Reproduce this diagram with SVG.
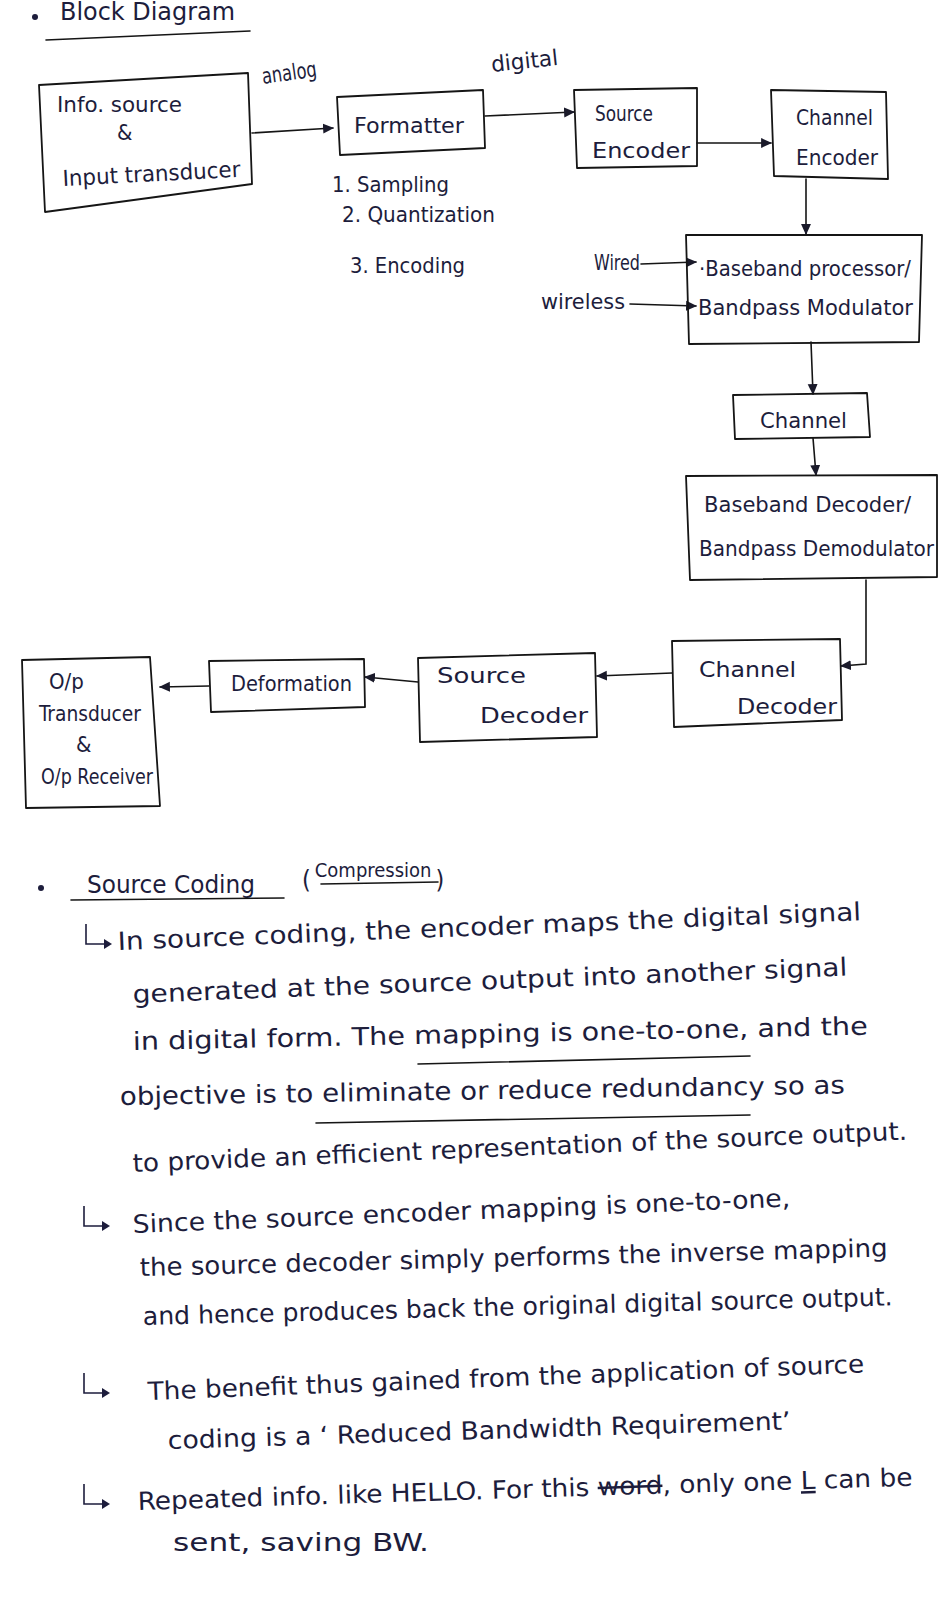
<svg xmlns="http://www.w3.org/2000/svg" width="942" height="1600" viewBox="0 0 942 1600">
<defs>
<marker id="ah" viewBox="0 0 10 10" refX="9" refY="5" markerWidth="11" markerHeight="11" markerUnits="userSpaceOnUse" orient="auto"><path d="M0,0.5 L10,5 L0,9.5 z" fill="#1a1a2a"/></marker>
<style>
.bx{fill:none;stroke:#151515;stroke-width:1.8;stroke-linejoin:round}
.ln{fill:none;stroke:#151515;stroke-width:1.6;stroke-linecap:round}
.t{font-family:"DejaVu Sans Condensed","Liberation Sans Narrow","Liberation Sans",sans-serif;fill:#1d1d3c;font-size:22px}
.p{font-family:"DejaVu Sans Condensed","Liberation Sans Narrow","Liberation Sans",sans-serif;fill:#1d1d3c;font-size:25px}
.hk{fill:none;stroke:#1d1d3c;stroke-width:1.6}
</style>
</defs>
<rect width="942" height="1600" fill="#ffffff"/>
<g id="title">
<circle cx="35" cy="17" r="3" fill="#1d1d3c"/>
<text class="p" x="60" y="20" textLength="175" lengthAdjust="spacingAndGlyphs" font-size="26">Block Diagram</text>
<path class="ln" d="M46,40 L250,31"/>
</g>
<g id="connectors">
<path class="ln" d="M252,133 L333,128" marker-end="url(#ah)"/>
<path class="ln" d="M485,116 L574,112" marker-end="url(#ah)"/>
<path class="ln" d="M697,143 L771,143" marker-end="url(#ah)"/>
<path class="ln" d="M806,179 L806,234" marker-end="url(#ah)"/>
<path class="ln" d="M641,264 L696,262" marker-end="url(#ah)"/>
<path class="ln" d="M630,304 L696,306" marker-end="url(#ah)"/>
<path class="ln" d="M811,342 L813,394" marker-end="url(#ah)"/>
<path class="ln" d="M813,438 L816,475" marker-end="url(#ah)"/>
<path class="ln" d="M866,580 L866,664 L841,666" marker-end="url(#ah)"/>
<path class="ln" d="M672,673 L597,676" marker-end="url(#ah)"/>
<path class="ln" d="M418,682 L365,677" marker-end="url(#ah)"/>
<path class="ln" d="M209,686 L160,687" marker-end="url(#ah)"/>
<text class="t" x="263" y="84" textLength="55" lengthAdjust="spacingAndGlyphs" transform="rotate(-8 263 84)">analog</text>
<text class="t" x="492" y="72" textLength="67" lengthAdjust="spacingAndGlyphs" transform="rotate(-6 492 72)">digital</text>
<text class="t" x="594" y="270" textLength="46" lengthAdjust="spacingAndGlyphs">Wired</text>
<text class="t" x="541" y="309" textLength="84" lengthAdjust="spacingAndGlyphs">wireless</text>
</g>
<g id="info-source">
<path class="bx" d="M39,85 L248,73 L252,184 L45,212 Z"/>
<text class="t" x="57" y="112" textLength="125" lengthAdjust="spacingAndGlyphs">Info. source</text>
<text class="t" x="117" y="140" font-size="18">&amp;</text>
<text class="t" x="63" y="186" textLength="178" lengthAdjust="spacingAndGlyphs" transform="rotate(-3 63 186)">Input transducer</text>
</g>
<g id="formatter">
<path class="bx" d="M337,97 L483,90 L485,148 L340,155 Z"/>
<text class="t" x="354" y="133" textLength="110" lengthAdjust="spacingAndGlyphs">Formatter</text>
<text class="t" x="332" y="192" textLength="117" lengthAdjust="spacingAndGlyphs">1. Sampling</text>
<text class="t" x="342" y="222" textLength="153" lengthAdjust="spacingAndGlyphs">2. Quantization</text>
<text class="t" x="350" y="273" textLength="115" lengthAdjust="spacingAndGlyphs">3. Encoding</text>
</g>
<g id="source-encoder">
<path class="bx" d="M574,90 L697,88 L697,166 L577,168 Z"/>
<text class="t" x="595" y="121" textLength="58" lengthAdjust="spacingAndGlyphs">Source</text>
<text class="t" x="592" y="158" textLength="98" lengthAdjust="spacingAndGlyphs">Encoder</text>
</g>
<g id="channel-encoder">
<path class="bx" d="M771,90 L886,92 L888,179 L774,176 Z"/>
<text class="t" x="796" y="125" textLength="77" lengthAdjust="spacingAndGlyphs">Channel</text>
<text class="t" x="796" y="165" textLength="82" lengthAdjust="spacingAndGlyphs">Encoder</text>
</g>
<g id="baseband-modulator">
<path class="bx" d="M686,235 L922,235 L919,342 L689,344 Z"/>
<text class="t" x="699" y="276" textLength="212" lengthAdjust="spacingAndGlyphs">·Baseband processor/</text>
<text class="t" x="698" y="315" textLength="215" lengthAdjust="spacingAndGlyphs">Bandpass Modulator</text>
</g>
<g id="channel">
<path class="bx" d="M733,395 L867,393 L870,437 L735,439 Z"/>
<text class="t" x="760" y="428" textLength="87" lengthAdjust="spacingAndGlyphs">Channel</text>
</g>
<g id="baseband-demodulator">
<path class="bx" d="M686,476 L937,475 L937,577 L690,580 Z"/>
<text class="t" x="704" y="512" textLength="207" lengthAdjust="spacingAndGlyphs">Baseband Decoder/</text>
<text class="t" x="699" y="556" textLength="235" lengthAdjust="spacingAndGlyphs">Bandpass Demodulator</text>
</g>
<g id="channel-decoder">
<path class="bx" d="M672,641 L840,639 L842,720 L674,727 Z"/>
<text class="t" x="699" y="677" textLength="97" lengthAdjust="spacingAndGlyphs">Channel</text>
<text class="t" x="737" y="714" textLength="100" lengthAdjust="spacingAndGlyphs">Decoder</text>
</g>
<g id="source-decoder">
<path class="bx" d="M418,658 L595,653 L597,737 L420,742 Z"/>
<text class="t" x="437" y="683" textLength="89" lengthAdjust="spacingAndGlyphs">Source</text>
<text class="t" x="480" y="723" textLength="108" lengthAdjust="spacingAndGlyphs">Decoder</text>
</g>
<g id="deformation">
<path class="bx" d="M209,661 L364,659 L365,707 L211,712 Z"/>
<text class="t" x="231" y="691" textLength="121" lengthAdjust="spacingAndGlyphs">Deformation</text>
</g>
<g id="output">
<path class="bx" d="M22,660 L150,657 L160,806 L26,808 Z"/>
<text class="t" x="49" y="689">O/p</text>
<text class="t" x="39" y="721" textLength="102" lengthAdjust="spacingAndGlyphs">Transducer</text>
<text class="t" x="76" y="752" font-size="13">&amp;</text>
<text class="t" x="41" y="784" textLength="112" lengthAdjust="spacingAndGlyphs">O/p Receiver</text>
</g>
<g id="source-coding">
<circle cx="41" cy="888" r="3" fill="#1d1d3c"/>
<text class="p" x="87" y="893" textLength="168" lengthAdjust="spacingAndGlyphs">Source Coding</text>
<path class="ln" d="M71,900 L284,898"/>
<text class="p" x="302" y="888" font-size="36"><tspan>(</tspan><tspan font-size="20" dx="4" dy="-11">Compression</tspan><tspan dx="4" dy="11">)</tspan></text>
<path class="ln" d="M321,884 L438,882"/>

<path class="hk" d="M86,924 L86,944 L106,944"/><path d="M104,939 L112,944 L104,949 Z" fill="#1d1d3c"/>
<text class="p" x="118" y="950" textLength="744" lengthAdjust="spacingAndGlyphs" transform="rotate(-2.3 118 950)">In source coding, the encoder maps the digital signal</text>
<text class="p" x="133" y="1003" textLength="715" lengthAdjust="spacingAndGlyphs" transform="rotate(-2.2 133 1003)">generated at the source output into another signal</text>
<text class="p" x="133" y="1050" textLength="735" lengthAdjust="spacingAndGlyphs" transform="rotate(-1.2 133 1050)">in digital form. The mapping is one-to-one, and the</text>
<path class="ln" d="M418,1064 L750,1056"/>
<text class="p" x="120" y="1105" textLength="725" lengthAdjust="spacingAndGlyphs" transform="rotate(-0.9 120 1105)">objective is to eliminate or reduce redundancy so as</text>
<path class="ln" d="M316,1123 L750,1115"/>
<text class="p" x="133" y="1172" textLength="775" lengthAdjust="spacingAndGlyphs" transform="rotate(-2.4 133 1172)">to provide an efficient representation of the source output.</text>

<path class="hk" d="M84,1206 L84,1226 L104,1226"/><path d="M102,1221 L110,1226 L102,1231 Z" fill="#1d1d3c"/>
<text class="p" x="133" y="1233" textLength="658" lengthAdjust="spacingAndGlyphs" transform="rotate(-2.3 133 1233)">Since the source encoder mapping is one-to-one,</text>
<text class="p" x="140" y="1276" textLength="748" lengthAdjust="spacingAndGlyphs" transform="rotate(-1.5 140 1276)">the source decoder simply performs the inverse mapping</text>
<text class="p" x="143" y="1325" textLength="750" lengthAdjust="spacingAndGlyphs" transform="rotate(-1.5 143 1325)">and hence produces back the original digital source output.</text>

<path class="hk" d="M84,1373 L84,1393 L104,1393"/><path d="M102,1388 L110,1393 L102,1398 Z" fill="#1d1d3c"/>
<text class="p" x="148" y="1400" textLength="717" lengthAdjust="spacingAndGlyphs" transform="rotate(-2.2 148 1400)">The benefit thus gained from the application of source</text>
<text class="p" x="168" y="1449" textLength="623" lengthAdjust="spacingAndGlyphs" transform="rotate(-1.8 168 1449)">coding is a ‘ Reduced Bandwidth Requirement’</text>

<path class="hk" d="M84,1484 L84,1504 L104,1504"/><path d="M102,1499 L110,1504 L102,1509 Z" fill="#1d1d3c"/>
<text class="p" x="138" y="1510" textLength="775" lengthAdjust="spacingAndGlyphs" transform="rotate(-1.8 138 1510)">Repeated info. like HELLO. For this <tspan text-decoration="line-through">word</tspan>, only one <tspan text-decoration="underline">L</tspan> can be</text>
<text class="p" x="173" y="1551" textLength="256" lengthAdjust="spacingAndGlyphs">sent, saving BW.</text>
</g>
</svg>
